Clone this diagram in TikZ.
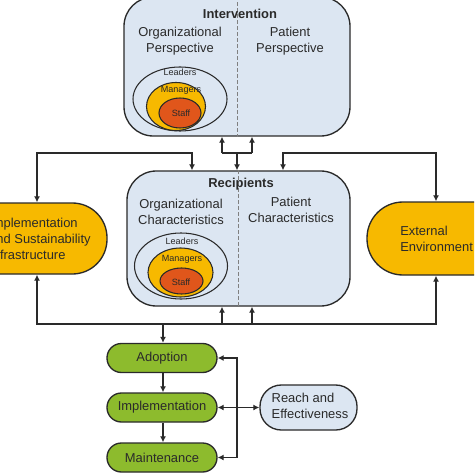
\documentclass[tikz,border=0pt]{standalone}
\usepackage{fontspec}
\setmainfont{Liberation Sans}
\usetikzlibrary{arrows.meta,fit,shapes.geometric}
\definecolor{lblue}{HTML}{DCE6F2}
\definecolor{gold}{HTML}{F7B900}
\definecolor{redor}{HTML}{E0561B}
\definecolor{lgreen}{HTML}{8DBB2D}
\definecolor{ink}{HTML}{2A2A2A}
\newcommand\pxu{0.75pt}
\tikzset{
  bigbox/.style={draw=ink, line width=1pt, fill=lblue, inner sep=0pt, rounded corners=22pt},
  sidebox/.style={draw=ink, line width=1pt, fill=gold, inner sep=0pt},
  greenbox/.style={draw=ink, line width=1pt, fill=lgreen, inner sep=0pt, rounded corners=10.8pt,
    minimum width=82.5pt, minimum height=21.75pt, font=\fontsize{9.7}{12}\selectfont, text=ink},
  txt/.style={inner sep=0pt, align=center, font=\fontsize{9.7}{12}\selectfont, text=ink},
  ttl/.style={inner sep=0pt, font=\fontsize{9.7}{12}\selectfont\bfseries, text=ink},
  small/.style={inner sep=0pt, font=\fontsize{6.8}{8}\selectfont, text=ink},
  ell/.style={ellipse, draw=ink, line width=0.8pt, inner sep=0pt},
  conn/.style={draw=ink, line width=1.1pt},
  arr/.style={conn, -{Latex[length=4.5pt,width=4.5pt]}},
  darr/.style={conn, {Latex[length=4.5pt,width=4.5pt]}-{Latex[length=4.5pt,width=4.5pt]}},
  divider/.style={draw=gray, line width=0.6pt, dash pattern=on 2.5pt off 2pt},
}
\begin{document}
\begin{tikzpicture}[x=0.75pt,y=-0.75pt]
\useasboundingbox (0,0) rectangle (474,474);
\clip (0,0) rectangle (474,474);
\fill[white] (0,0) rectangle (474,474);

% Intervention box
\node[bigbox, fit={(124,-3)(350,136)}] (interv) {};
\draw[divider] (interv.north) -- (interv.south);
\node[ttl] (intervT) at (240,14) {Intervention};
\node[txt] (orgP) at (180,41) {Organizational\\Perspective};
\node[txt] (patP) at (290,41) {Patient\\Perspective};
\node[ell, minimum width=94*\pxu, minimum height=64*\pxu] (lead1) at (180,99) {};
\node[ell, fill=gold, minimum width=59*\pxu, minimum height=48*\pxu] (man1) at (176,106.5) {};
\node[ell, fill=redor, minimum width=42*\pxu, minimum height=30*\pxu] (staff1) at (180,113) {};
\node[small] (lead1T) at (180,72) {Leaders};
\node[small] (man1T) at (181,90) {Managers};
\node[small] (staff1T) at (181,113) {Staff};

% Recipients box
\node[bigbox, fit={(127,171)(350,306)}] (recip) {};
\draw[divider] (recip.north) -- (recip.south);
\node[ttl] (recipT) at (241,184) {Recipients};
\node[txt] (orgC) at (181,211.5) {Organizational\\Characteristics};
\node[txt] (patC) at (291,210) {Patient\\Characteristics};
\node[ell, minimum width=93*\pxu, minimum height=66*\pxu] (lead2) at (181,266) {};
\node[ell, fill=gold, minimum width=65*\pxu, minimum height=49*\pxu] (man2) at (180.5,272.5) {};
\node[ell, fill=redor, minimum width=43*\pxu, minimum height=26*\pxu] (staff2) at (181.5,281) {};
\node[small] (lead2T) at (182,241) {Leaders};
\node[small] (man2T) at (182,259) {Managers};
\node[small] (staff2T) at (181,282) {Staff};

% Side boxes
\node[sidebox, rounded corners=26pt, fit={(-60,203)(107,274)}] (infra) {};
\node[txt, align=left, anchor=west] (infraT) at (-11,239) {Implementation\\and Sustainability\\Infrastructure};
\node[sidebox, rounded corners=27pt, fit={(367,202)(540,275)}] (ext) {};
\node[txt, align=left, anchor=west] (extT) at (400,238.5) {External\\Environment};

% Top connectors
\coordinate (tL) at (222,153);
\coordinate (tM) at (237,153);
\coordinate (tR) at (252,153);
\draw[conn] (tL) -- (tR);
\draw[arr] (tL) -- (tL |- interv.south);
\draw[arr] (tR) -- (tR |- interv.south);
\draw[arr] (tM) -- (tM |- recip.north);
\coordinate (lA) at (37,153);
\coordinate (lB) at (192,153);
\draw[darr] (lA |- infra.north) -- (lA) -- (lB) -- (lB |- recip.north);
\coordinate (rA) at (283,153);
\coordinate (rB) at (436,153);
\draw[darr] (rA |- recip.north) -- (rA) -- (rB) -- (rB |- ext.north);

% Bottom connectors
\coordinate (bL) at (37,324);
\coordinate (bR) at (436,324);
\coordinate (b1) at (222,324);
\coordinate (b2) at (252,324);
\coordinate (b3) at (163,324);
\draw[darr] (bL |- infra.south) -- (bL) -- (bR) -- (bR |- ext.south);
\draw[arr] (b1) -- (b1 |- recip.south);
\draw[arr] (b2) -- (b2 |- recip.south);

% Outcome boxes
\node[greenbox] (adopt) at (162,358) {Adoption};
\node[greenbox] (implem) at (162,407.5) {Implementation};
\node[greenbox] (maint) at (162,457.5) {Maintenance};
\node[draw=ink, line width=1pt, fill=lblue, rounded corners=16pt, inner sep=0pt,
      minimum width=97*\pxu, minimum height=45*\pxu] (reach) at (308.5,407.5) {};
\node[txt, align=left] (reachT) at (310,406) {Reach and\\Effectiveness};

\draw[arr] (b3) -- (b3 |- adopt.north);
\draw[arr] (adopt.south -| b3) -- (implem.north -| b3);
\draw[arr] (implem.south -| b3) -- (maint.north -| b3);
\coordinate (brx) at (237,0);
\draw[darr] (adopt.east) -- (adopt.east -| brx) -- (maint.east -| brx) -- (maint.east);
\draw[darr] (implem.east) -- (reach.west);
\end{tikzpicture}
\end{document}
